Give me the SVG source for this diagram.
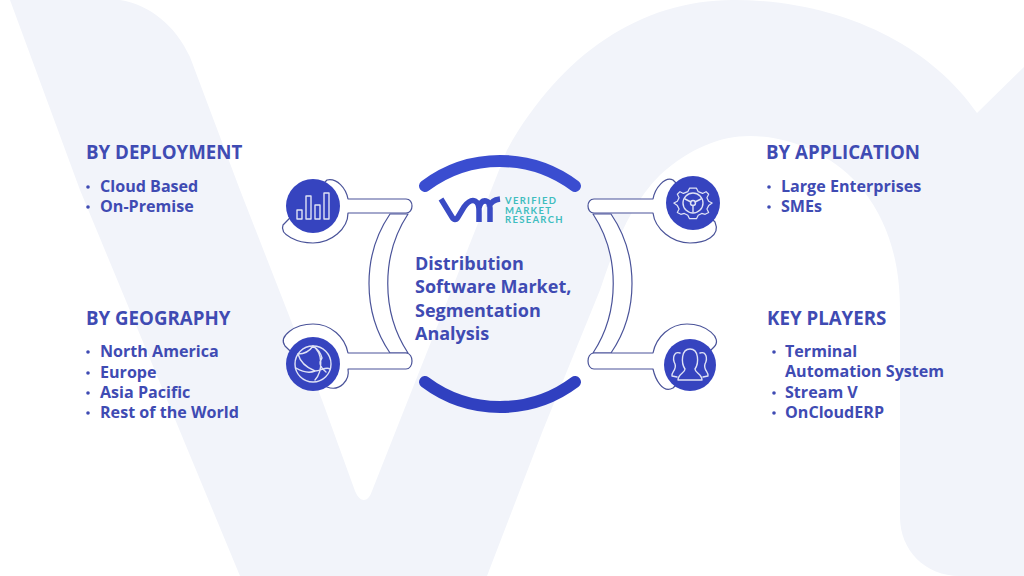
<svg xmlns="http://www.w3.org/2000/svg" width="1024" height="576" viewBox="0 0 1024 576">
<style>
.h{font:700 18.700px "Open Sans",sans-serif;fill:#3f4bb3}
.i{font:700 16.100px "Open Sans",sans-serif;fill:#3f4bb3}
.c{font:700 18px "Open Sans",sans-serif;fill:#3f4bb3}
.b{fill:#3f4bb3}
.o{fill:#fff;stroke:#4a5399;stroke-width:1.2;stroke-linejoin:round}
.d{fill:#3644bf}
.g{fill:none;stroke:#dfe2f5;stroke-width:1.400;stroke-linejoin:round;stroke-linecap:round}
.a{fill:none;stroke:#3a4dd0;stroke-width:12;stroke-linecap:round}
.l{font:700 9.500px "Lato",sans-serif;fill:#3fbdbf;letter-spacing:1.300px}
</style>
<rect width="1024" height="576" fill="#fff"/>
<path id="background" fill="#f2f4fa" d="M10,0 L80,190 L240,576 L487,576 L543,430 L600,290 C615,245 630,205 660,175 C690,148 720,136 750,136 C790,136 835,155 863,190 C890,225 900,265 900,310 L900,517 C900,550 925,576 960,576 L1024,576 L1024,67 L977,113 C930,45 840,0 733,0 C640,0 560,55 507,150 L408,400 L372,491 C368,503 360,503 355,491 L322,400 L240,190 L190,57 C175,25 150,5 120,0 Z"/>
<g id="connectors">
<path class="o" d="M390,214 C362,255 362,312 390,353 L408,353 C381,312 381,255 408,214 Z"/>
<path class="o" d="M611,214 C639,255 639,312 611,353 L593,353 C620,312 620,255 593,214 Z"/>
</g>
<g id="node-deployment">
<path class="o" d="M327,180 C337,178 346,188 348,199 L406,199 C414,199 414,213 406,213 L348,213 C348,229 331,243 313,243 C298,243 279,235 283,225 Z"/>
<circle class="d" cx="313" cy="206" r="27"/>
<g class="g"><rect x="297" y="210" width="5" height="9"/><rect x="306" y="196" width="5" height="23"/><rect x="315" y="205" width="5" height="14"/><rect x="324" y="193" width="5" height="26"/></g>
</g>
<g id="node-geography">
<path class="o" d="M285,346 C278,336 295,324 313,324 C331,324 345,337 348,353 L406,353 C414,353 414,369 406,369 L348,369 C350,380 340,392 327,387 Z"/>
<circle class="d" cx="313" cy="364" r="27"/>
<g class="g"><circle cx="313" cy="364" r="18"/><path d="M298,354 C306,354 311,349 313,346 C323,353 323,371 315,380 M298,354 C301,365 310,369 315,371 C321,371 326,366 330,369 M315,371 C308,374 301,371 296,368 M313,346 C318,349 321,354 322,358 C318,363 321,368 326,372"/></g>
</g>
<g id="node-application">
<path class="o" d="M673,180 C665,176 655,188 653,199 L594,199 C586,199 586,213 594,213 L653,213 C655,229 672,243 690,243 C705,243 721,236 715,222 Z"/>
<circle class="d" cx="693" cy="203" r="27"/>
<g class="g"><path transform="translate(693 203) scale(.87) translate(-693 -203)" d="M689,186 L697,186 L699,190 L704,192 L708,190 L711,193 L709,197 L711,201 L715,203 L711,206 L709,210 L711,214 L707,216 L703,215 L699,217 L697,221 L689,221 L687,217 L683,215 L679,216 L675,214 L677,210 L675,206 L671,203 L675,201 L677,197 L675,193 L678,190 L682,192 L687,190 Z"/><circle cx="693" cy="203" r="10"/><circle cx="693" cy="203" r="2.500"/><path d="M685,199 L691,202 M701,199 L695,202 M693,206 L693,212"/></g>
</g>
<g id="node-players">
<path class="o" d="M714,347 C723,338 706,324 687,324 C670,324 656,337 653,353 L594,353 C586,353 586,369 594,369 L653,369 C655,378 662,394 673,388 Z"/>
<circle class="d" cx="690" cy="365" r="26"/>
<g class="g"><path d="M678,380 C678,374 685,373 685,369 C681,363 681,349 690,349 C699,349 699,363 695,369 C695,373 702,374 702,380 Z"/><path d="M680,353 C674,351 672,358 675,364 C677,370 671,372 672,376 L677,377 M700,353 C706,351 708,358 705,364 C703,370 709,372 708,376 L703,377"/></g>
</g>
<g id="center">
<path class="a" d="M425,186 A125,125 0 0 1 575,186"/>
<path class="a" style="stroke:#3040c0" d="M425,382 A125,125 0 0 0 575,382"/>
<path fill="none" stroke="#3a4bc4" stroke-width="5.500" stroke-linejoin="round" d="M441,199 L452,217 Q455,222 458,217 L464,207 Q470,199 475,201 Q479,203 479,210 V222 M479,208 Q481,200 486,201 Q490,202 490,208 V222 M489,207 Q491,200 500,199"/>
<text class="l" x="505" y="204">VERIFIED</text>
<text class="l" x="505" y="213.500">MARKET</text>
<text class="l" x="505" y="223">RESEARCH</text>
<text class="c" x="415" y="270">Distribution</text>
<text class="c" x="415" y="293">Software Market,</text>
<text class="c" x="415" y="317">Segmentation</text>
<text class="c" x="415" y="340">Analysis</text>
</g>
<g id="text-deployment">
<text class="h" x="86" y="159">BY DEPLOYMENT</text>
<circle class="b" cx="88" cy="187" r="1.800"/><text class="i" x="100" y="192">Cloud Based</text>
<circle class="b" cx="88" cy="207" r="1.800"/><text class="i" x="100" y="212">On-Premise</text>
</g>
<g id="text-geography">
<text class="h" x="86" y="325">BY GEOGRAPHY</text>
<circle class="b" cx="88" cy="352" r="1.800"/><text class="i" x="100" y="357">North America</text>
<circle class="b" cx="88" cy="373" r="1.800"/><text class="i" x="100" y="378">Europe</text>
<circle class="b" cx="88" cy="393" r="1.800"/><text class="i" x="100" y="398">Asia Pacific</text>
<circle class="b" cx="88" cy="413" r="1.800"/><text class="i" x="100" y="418">Rest of the World</text>
</g>
<g id="text-application">
<text class="h" x="766" y="159">BY APPLICATION</text>
<circle class="b" cx="769" cy="187" r="1.800"/><text class="i" x="781" y="192">Large Enterprises</text>
<circle class="b" cx="769" cy="207" r="1.800"/><text class="i" x="781" y="212">SMEs</text>
</g>
<g id="text-players">
<text class="h" x="767" y="325">KEY PLAYERS</text>
<circle class="b" cx="774" cy="352" r="1.800"/><text class="i" x="785" y="357">Terminal</text>
<text class="i" x="785" y="377">Automation System</text>
<circle class="b" cx="774" cy="393" r="1.800"/><text class="i" x="785" y="398">Stream V</text>
<circle class="b" cx="774" cy="413" r="1.800"/><text class="i" x="785" y="418">OnCloudERP</text>
</g>
</svg>
